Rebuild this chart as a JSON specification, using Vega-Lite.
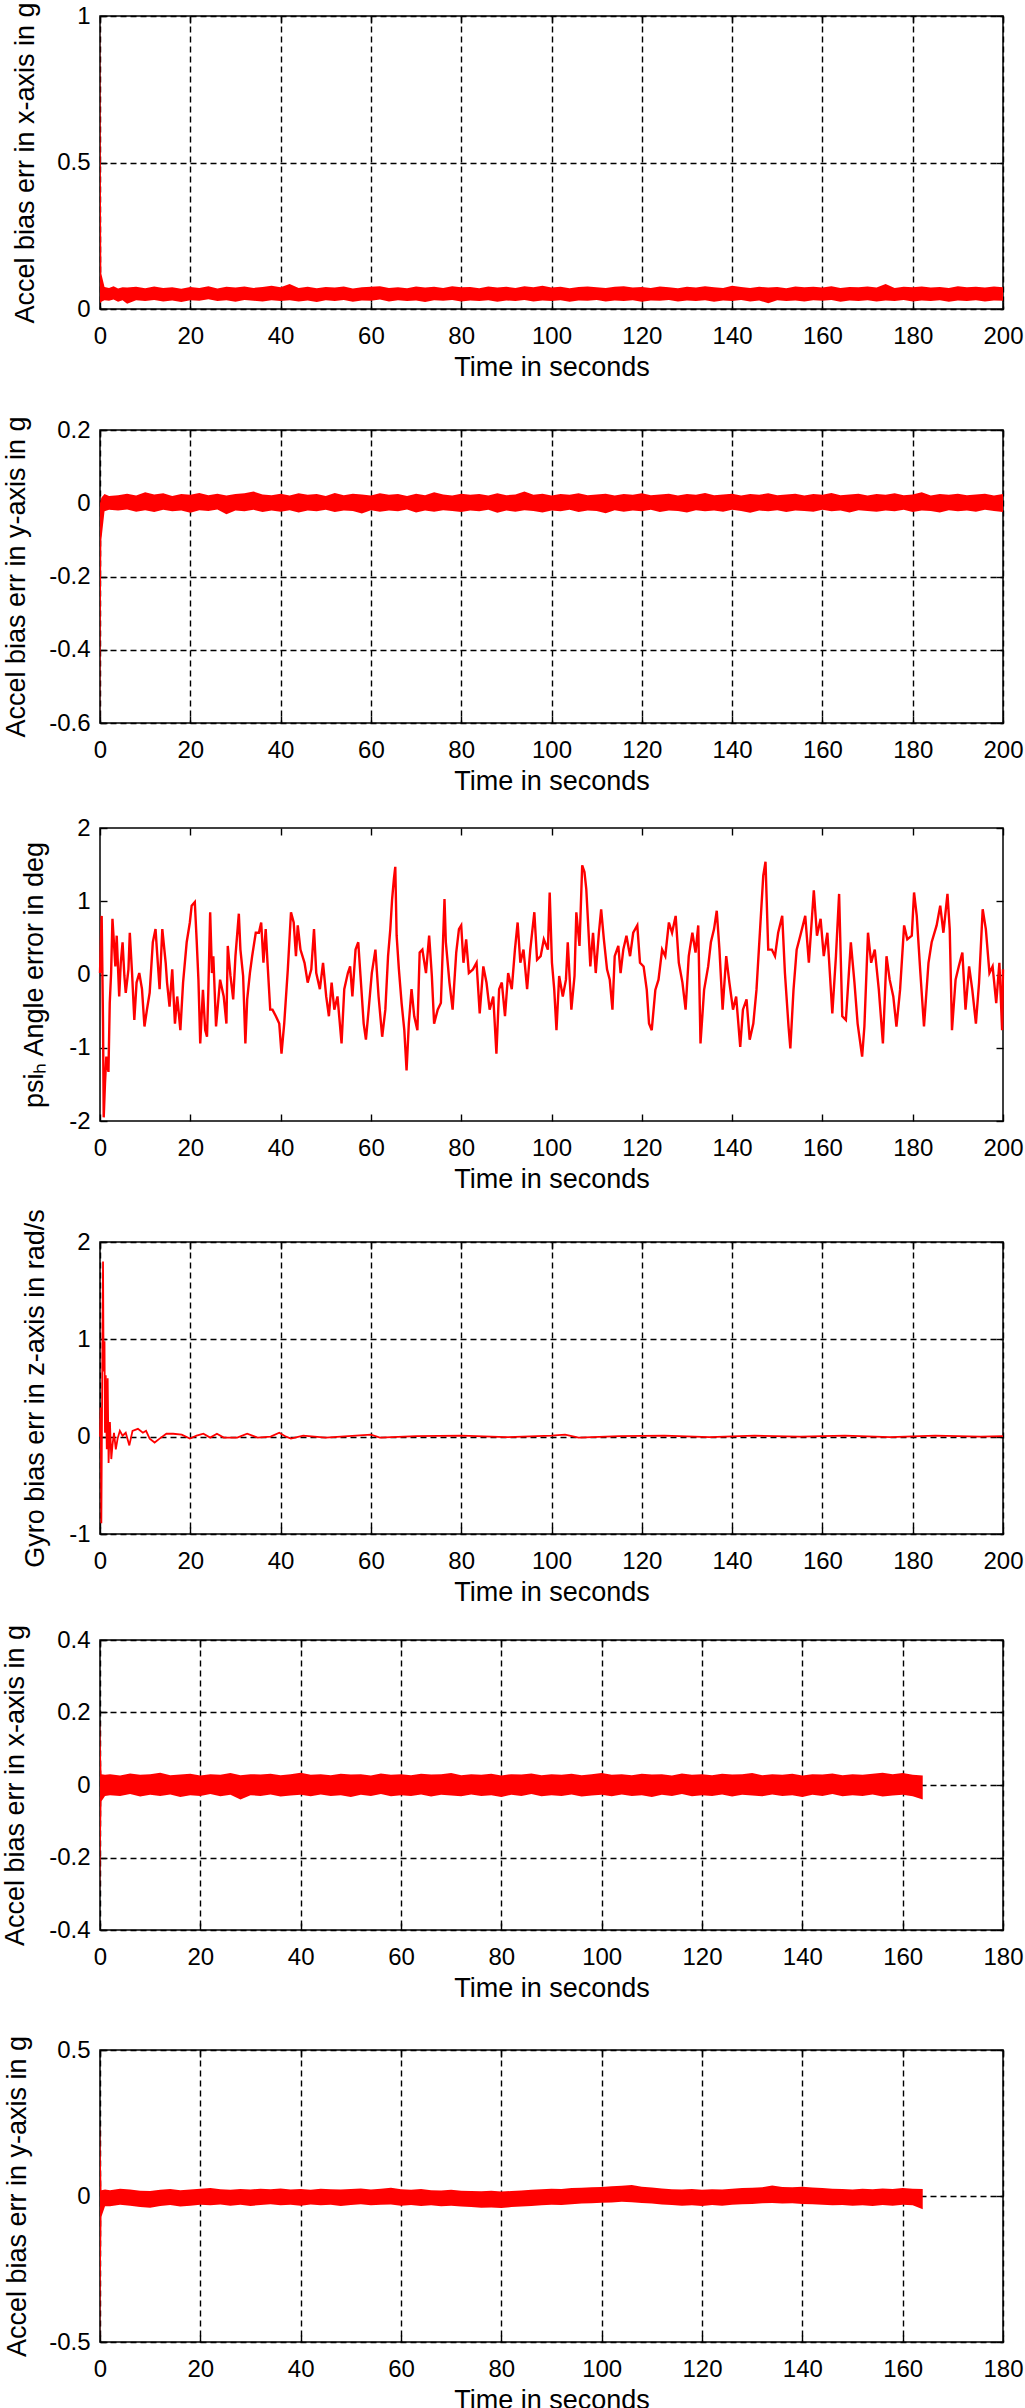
{
"$schema": "https://vega.github.io/schema/vega-lite/v6.json",
"padding": {"left": 0, "top": 1, "right": 0, "bottom": 0},
"background": "white",
"config": {
  "view": {"stroke": "black", "strokeWidth": 1.5},
  "axis": {"labelFont": "Liberation Sans", "labelFontSize": 24, "labelColor": "black", "titleFont": "Liberation Sans", "titleFontSize": 27, "titleFontWeight": "normal", "titleColor": "black", "domain": false, "tickColor": "black", "tickSize": -7, "tickWidth": 1.4, "gridColor": "black", "gridDash": [6, 4], "gridOpacity": 1, "gridWidth": 1.4, "labelOverlap": false, "labelFlush": false}
},
"datasets": {
"p1": [{"t":0,"lo":0.02,"hi":1.0},{"t":0.3,"lo":0.025,"hi":0.12},{"t":1,"lo":0.03,"hi":0.075},{"t":2,"lo":0.028,"hi":0.072},{"t":3,"lo":0.032,"hi":0.078},{"t":4,"lo":0.025,"hi":0.07},{"t":5,"lo":0.03,"hi":0.074},{"t":6,"lo":0.018,"hi":0.073},{"t":8,"lo":0.03,"hi":0.076},{"t":10,"lo":0.027,"hi":0.071},{"t":12,"lo":0.031,"hi":0.077},{"t":14,"lo":0.026,"hi":0.072},{"t":16,"lo":0.029,"hi":0.074},{"t":18,"lo":0.024,"hi":0.069},{"t":20,"lo":0.03,"hi":0.075},{"t":22,"lo":0.028,"hi":0.072},{"t":24,"lo":0.033,"hi":0.078},{"t":26,"lo":0.027,"hi":0.07},{"t":28,"lo":0.03,"hi":0.076},{"t":30,"lo":0.025,"hi":0.073},{"t":32,"lo":0.031,"hi":0.077},{"t":34,"lo":0.028,"hi":0.072},{"t":36,"lo":0.026,"hi":0.075},{"t":38,"lo":0.03,"hi":0.079},{"t":40,"lo":0.027,"hi":0.074},{"t":42,"lo":0.03,"hi":0.085},{"t":44,"lo":0.026,"hi":0.072},{"t":46,"lo":0.029,"hi":0.076},{"t":48,"lo":0.024,"hi":0.071},{"t":50,"lo":0.03,"hi":0.075},{"t":52,"lo":0.027,"hi":0.073},{"t":54,"lo":0.031,"hi":0.077},{"t":56,"lo":0.025,"hi":0.07},{"t":58,"lo":0.029,"hi":0.074},{"t":60,"lo":0.028,"hi":0.076},{"t":62,"lo":0.032,"hi":0.078},{"t":64,"lo":0.026,"hi":0.072},{"t":66,"lo":0.03,"hi":0.074},{"t":68,"lo":0.027,"hi":0.071},{"t":70,"lo":0.029,"hi":0.077},{"t":72,"lo":0.024,"hi":0.073},{"t":74,"lo":0.03,"hi":0.076},{"t":76,"lo":0.028,"hi":0.072},{"t":78,"lo":0.031,"hi":0.078},{"t":80,"lo":0.026,"hi":0.074},{"t":82,"lo":0.029,"hi":0.075},{"t":84,"lo":0.027,"hi":0.071},{"t":86,"lo":0.03,"hi":0.077},{"t":88,"lo":0.025,"hi":0.073},{"t":90,"lo":0.029,"hi":0.076},{"t":92,"lo":0.027,"hi":0.072},{"t":94,"lo":0.031,"hi":0.078},{"t":96,"lo":0.026,"hi":0.074},{"t":98,"lo":0.029,"hi":0.079},{"t":100,"lo":0.027,"hi":0.073},{"t":102,"lo":0.03,"hi":0.076},{"t":104,"lo":0.025,"hi":0.071},{"t":106,"lo":0.029,"hi":0.075},{"t":108,"lo":0.028,"hi":0.077},{"t":110,"lo":0.031,"hi":0.074},{"t":112,"lo":0.026,"hi":0.072},{"t":114,"lo":0.029,"hi":0.076},{"t":116,"lo":0.027,"hi":0.078},{"t":118,"lo":0.03,"hi":0.073},{"t":120,"lo":0.025,"hi":0.075},{"t":122,"lo":0.029,"hi":0.072},{"t":124,"lo":0.028,"hi":0.077},{"t":126,"lo":0.031,"hi":0.074},{"t":128,"lo":0.026,"hi":0.071},{"t":130,"lo":0.029,"hi":0.076},{"t":132,"lo":0.027,"hi":0.073},{"t":134,"lo":0.03,"hi":0.078},{"t":136,"lo":0.025,"hi":0.074},{"t":138,"lo":0.029,"hi":0.072},{"t":140,"lo":0.027,"hi":0.079},{"t":142,"lo":0.031,"hi":0.075},{"t":144,"lo":0.026,"hi":0.072},{"t":146,"lo":0.029,"hi":0.076},{"t":148,"lo":0.02,"hi":0.073},{"t":150,"lo":0.03,"hi":0.075},{"t":152,"lo":0.027,"hi":0.071},{"t":154,"lo":0.029,"hi":0.077},{"t":156,"lo":0.026,"hi":0.074},{"t":158,"lo":0.03,"hi":0.076},{"t":160,"lo":0.028,"hi":0.073},{"t":162,"lo":0.031,"hi":0.078},{"t":164,"lo":0.025,"hi":0.072},{"t":166,"lo":0.029,"hi":0.075},{"t":168,"lo":0.027,"hi":0.074},{"t":170,"lo":0.03,"hi":0.077},{"t":172,"lo":0.026,"hi":0.073},{"t":174,"lo":0.029,"hi":0.085},{"t":176,"lo":0.027,"hi":0.072},{"t":178,"lo":0.031,"hi":0.076},{"t":180,"lo":0.026,"hi":0.074},{"t":182,"lo":0.029,"hi":0.077},{"t":184,"lo":0.027,"hi":0.073},{"t":186,"lo":0.03,"hi":0.075},{"t":188,"lo":0.025,"hi":0.072},{"t":190,"lo":0.029,"hi":0.078},{"t":192,"lo":0.027,"hi":0.074},{"t":194,"lo":0.03,"hi":0.076},{"t":196,"lo":0.026,"hi":0.073},{"t":198,"lo":0.029,"hi":0.077},{"t":200,"lo":0.028,"hi":0.074}],
"p2": [{"t":0,"lo":-0.6,"hi":0.0},{"t":0.3,"lo":-0.1,"hi":0.015},{"t":1,"lo":-0.022,"hi":0.025},{"t":2,"lo":-0.018,"hi":0.02},{"t":4,"lo":-0.02,"hi":0.022},{"t":6,"lo":-0.017,"hi":0.026},{"t":8,"lo":-0.023,"hi":0.021},{"t":10,"lo":-0.019,"hi":0.03},{"t":12,"lo":-0.024,"hi":0.024},{"t":14,"lo":-0.018,"hi":0.027},{"t":16,"lo":-0.022,"hi":0.02},{"t":18,"lo":-0.02,"hi":0.025},{"t":20,"lo":-0.026,"hi":0.023},{"t":22,"lo":-0.019,"hi":0.028},{"t":24,"lo":-0.021,"hi":0.022},{"t":26,"lo":-0.017,"hi":0.026},{"t":28,"lo":-0.03,"hi":0.021},{"t":30,"lo":-0.02,"hi":0.025},{"t":32,"lo":-0.022,"hi":0.027},{"t":34,"lo":-0.018,"hi":0.032},{"t":36,"lo":-0.024,"hi":0.024},{"t":38,"lo":-0.02,"hi":0.022},{"t":40,"lo":-0.023,"hi":0.026},{"t":42,"lo":-0.019,"hi":0.021},{"t":44,"lo":-0.025,"hi":0.027},{"t":46,"lo":-0.02,"hi":0.023},{"t":48,"lo":-0.022,"hi":0.025},{"t":50,"lo":-0.018,"hi":0.02},{"t":52,"lo":-0.024,"hi":0.028},{"t":54,"lo":-0.02,"hi":0.022},{"t":56,"lo":-0.021,"hi":0.026},{"t":58,"lo":-0.028,"hi":0.024},{"t":60,"lo":-0.019,"hi":0.021},{"t":62,"lo":-0.023,"hi":0.027},{"t":64,"lo":-0.02,"hi":0.023},{"t":66,"lo":-0.022,"hi":0.025},{"t":68,"lo":-0.017,"hi":0.02},{"t":70,"lo":-0.025,"hi":0.026},{"t":72,"lo":-0.02,"hi":0.022},{"t":74,"lo":-0.023,"hi":0.03},{"t":76,"lo":-0.019,"hi":0.024},{"t":78,"lo":-0.021,"hi":0.021},{"t":80,"lo":-0.024,"hi":0.026},{"t":82,"lo":-0.02,"hi":0.023},{"t":84,"lo":-0.022,"hi":0.025},{"t":86,"lo":-0.018,"hi":0.021},{"t":88,"lo":-0.026,"hi":0.027},{"t":90,"lo":-0.02,"hi":0.022},{"t":92,"lo":-0.023,"hi":0.024},{"t":94,"lo":-0.019,"hi":0.032},{"t":96,"lo":-0.021,"hi":0.023},{"t":98,"lo":-0.025,"hi":0.026},{"t":100,"lo":-0.02,"hi":0.021},{"t":102,"lo":-0.022,"hi":0.025},{"t":104,"lo":-0.018,"hi":0.023},{"t":106,"lo":-0.024,"hi":0.027},{"t":108,"lo":-0.02,"hi":0.022},{"t":110,"lo":-0.021,"hi":0.024},{"t":112,"lo":-0.027,"hi":0.026},{"t":114,"lo":-0.019,"hi":0.021},{"t":116,"lo":-0.023,"hi":0.025},{"t":118,"lo":-0.02,"hi":0.023},{"t":120,"lo":-0.022,"hi":0.027},{"t":122,"lo":-0.018,"hi":0.022},{"t":124,"lo":-0.024,"hi":0.024},{"t":126,"lo":-0.02,"hi":0.026},{"t":128,"lo":-0.021,"hi":0.021},{"t":130,"lo":-0.025,"hi":0.025},{"t":132,"lo":-0.019,"hi":0.023},{"t":134,"lo":-0.022,"hi":0.028},{"t":136,"lo":-0.02,"hi":0.022},{"t":138,"lo":-0.023,"hi":0.024},{"t":140,"lo":-0.018,"hi":0.026},{"t":142,"lo":-0.021,"hi":0.021},{"t":144,"lo":-0.026,"hi":0.025},{"t":146,"lo":-0.02,"hi":0.023},{"t":148,"lo":-0.022,"hi":0.027},{"t":150,"lo":-0.019,"hi":0.022},{"t":152,"lo":-0.024,"hi":0.024},{"t":154,"lo":-0.02,"hi":0.026},{"t":156,"lo":-0.021,"hi":0.021},{"t":158,"lo":-0.023,"hi":0.025},{"t":160,"lo":-0.018,"hi":0.023},{"t":162,"lo":-0.022,"hi":0.028},{"t":164,"lo":-0.02,"hi":0.022},{"t":166,"lo":-0.025,"hi":0.024},{"t":168,"lo":-0.019,"hi":0.026},{"t":170,"lo":-0.021,"hi":0.021},{"t":172,"lo":-0.023,"hi":0.025},{"t":174,"lo":-0.02,"hi":0.023},{"t":176,"lo":-0.022,"hi":0.027},{"t":178,"lo":-0.018,"hi":0.022},{"t":180,"lo":-0.024,"hi":0.024},{"t":182,"lo":-0.02,"hi":0.03},{"t":184,"lo":-0.021,"hi":0.021},{"t":186,"lo":-0.025,"hi":0.025},{"t":188,"lo":-0.019,"hi":0.023},{"t":190,"lo":-0.022,"hi":0.026},{"t":192,"lo":-0.02,"hi":0.022},{"t":194,"lo":-0.023,"hi":0.024},{"t":196,"lo":-0.018,"hi":0.026},{"t":198,"lo":-0.021,"hi":0.021},{"t":200,"lo":-0.024,"hi":0.025}],
"p3": [{"t":0,"v":0.02},{"t":0.37,"v":0.8},{"t":0.67,"v":-0.67},{"t":0.82,"v":-1.95},{"t":1.1,"v":-1.49},{"t":1.4,"v":-1.12},{"t":1.87,"v":-1.33},{"t":2.16,"v":-0.39},{"t":2.46,"v":0.02},{"t":2.76,"v":0.76},{"t":3.4,"v":0.11},{"t":3.7,"v":0.53},{"t":4.25,"v":-0.3},{"t":4.6,"v":0.16},{"t":5,"v":0.44},{"t":5.4,"v":-0.02},{"t":5.7,"v":-0.25},{"t":6.3,"v":0.07},{"t":6.6,"v":0.57},{"t":7.1,"v":0.02},{"t":7.6,"v":-0.62},{"t":8.1,"v":-0.11},{"t":8.7,"v":0.02},{"t":9.3,"v":-0.2},{"t":9.85,"v":-0.71},{"t":10.4,"v":-0.48},{"t":11,"v":-0.25},{"t":11.7,"v":0.44},{"t":12.3,"v":0.62},{"t":12.8,"v":0.16},{"t":13.2,"v":-0.2},{"t":13.8,"v":0.62},{"t":14.55,"v":0.16},{"t":14.85,"v":-0.11},{"t":15.4,"v":-0.44},{"t":16,"v":0.07},{"t":16.6,"v":-0.67},{"t":17.1,"v":-0.3},{"t":17.8,"v":-0.76},{"t":18.4,"v":-0.11},{"t":19.2,"v":0.44},{"t":19.9,"v":0.71},{"t":20.3,"v":0.94},{"t":21,"v":0.99},{"t":21.4,"v":0.48},{"t":21.8,"v":-0.07},{"t":22.2,"v":-0.94},{"t":22.8,"v":-0.21},{"t":23.3,"v":-0.76},{"t":23.7,"v":-0.85},{"t":24,"v":-0.21},{"t":24.4,"v":0.85},{"t":24.8,"v":0.02},{"t":25.1,"v":0.25},{"t":25.7,"v":-0.71},{"t":26.6,"v":-0.07},{"t":27.4,"v":-0.3},{"t":28,"v":-0.67},{"t":28.3,"v":0.39},{"t":28.9,"v":-0.02},{"t":29.5,"v":-0.34},{"t":30,"v":0.25},{"t":30.75,"v":0.83},{"t":31.1,"v":0.34},{"t":31.7,"v":-0.02},{"t":32.2,"v":-0.94},{"t":32.6,"v":-0.34},{"t":33.2,"v":0.02},{"t":33.7,"v":0.25},{"t":34.5,"v":0.57},{"t":35.2,"v":0.57},{"t":35.7,"v":0.71},{"t":36.2,"v":0.16},{"t":36.7,"v":0.62},{"t":37.1,"v":0.16},{"t":37.7,"v":-0.48},{"t":38.2,"v":-0.48},{"t":38.96,"v":-0.57},{"t":39.7,"v":-0.67},{"t":40.2,"v":-1.08},{"t":40.8,"v":-0.67},{"t":41.6,"v":0.07},{"t":42.3,"v":0.85},{"t":42.9,"v":0.71},{"t":43.4,"v":0.25},{"t":43.8,"v":0.67},{"t":44.4,"v":0.34},{"t":45.3,"v":0.16},{"t":46,"v":-0.11},{"t":46.8,"v":0.07},{"t":47.4,"v":0.62},{"t":47.9,"v":0.02},{"t":48.7,"v":-0.2},{"t":49.4,"v":0.16},{"t":50.1,"v":-0.3},{"t":50.7,"v":-0.57},{"t":51.3,"v":-0.11},{"t":51.9,"v":-0.48},{"t":52.6,"v":-0.3},{"t":53.5,"v":-0.94},{"t":54.1,"v":-0.2},{"t":54.9,"v":0.02},{"t":55.4,"v":0.11},{"t":55.9,"v":-0.3},{"t":56.6,"v":0.34},{"t":57.2,"v":0.44},{"t":57.7,"v":-0.02},{"t":58.4,"v":-0.67},{"t":58.9,"v":-0.89},{"t":59.5,"v":-0.48},{"t":60.2,"v":0.02},{"t":61,"v":0.34},{"t":61.7,"v":-0.3},{"t":62.5,"v":-0.85},{"t":63.2,"v":-0.48},{"t":63.8,"v":0.25},{"t":64.3,"v":0.62},{"t":64.7,"v":1.03},{"t":65.1,"v":1.31},{"t":65.4,"v":1.47},{"t":65.7,"v":0.53},{"t":66.2,"v":0.07},{"t":66.8,"v":-0.39},{"t":67.4,"v":-0.76},{"t":67.9,"v":-1.31},{"t":68.4,"v":-0.67},{"t":69,"v":-0.2},{"t":69.6,"v":-0.57},{"t":70.3,"v":-0.76},{"t":70.8,"v":0.3},{"t":71.4,"v":0.34},{"t":72.2,"v":0.02},{"t":72.9,"v":0.53},{"t":73.5,"v":-0.02},{"t":74,"v":-0.67},{"t":74.8,"v":-0.48},{"t":75.5,"v":-0.39},{"t":76.3,"v":1.03},{"t":76.6,"v":0.44},{"t":77.4,"v":-0.11},{"t":78.1,"v":-0.48},{"t":78.9,"v":0.3},{"t":79.5,"v":0.62},{"t":80,"v":0.67},{"t":80.5,"v":0.16},{"t":81.1,"v":0.48},{"t":81.7,"v":0.02},{"t":82.6,"v":0.07},{"t":83.4,"v":0.16},{"t":84.1,"v":-0.53},{"t":84.9,"v":0.11},{"t":85.6,"v":-0.11},{"t":86.3,"v":-0.48},{"t":87.1,"v":-0.3},{"t":87.8,"v":-1.08},{"t":88.4,"v":-0.2},{"t":89,"v":-0.11},{"t":89.7,"v":-0.57},{"t":90.4,"v":0.02},{"t":91.2,"v":-0.2},{"t":91.9,"v":0.34},{"t":92.5,"v":0.71},{"t":93.1,"v":0.16},{"t":93.8,"v":0.34},{"t":94.6,"v":-0.2},{"t":95.3,"v":0.34},{"t":96.2,"v":0.85},{"t":96.8,"v":0.2},{"t":97.6,"v":0.25},{"t":98.3,"v":0.48},{"t":99.2,"v":0.34},{"t":99.6,"v":1.12},{"t":100.1,"v":0.16},{"t":100.6,"v":-0.2},{"t":101.1,"v":-0.76},{"t":101.7,"v":-0.02},{"t":102.5,"v":-0.3},{"t":103.2,"v":-0.07},{"t":103.6,"v":0.44},{"t":104.4,"v":-0.48},{"t":105.1,"v":-0.02},{"t":105.5,"v":0.85},{"t":106.2,"v":0.39},{"t":106.8,"v":1.49},{"t":107.3,"v":1.4},{"t":107.7,"v":1.17},{"t":108.1,"v":0.71},{"t":108.6,"v":0.11},{"t":109.2,"v":0.57},{"t":109.8,"v":0.02},{"t":110.5,"v":0.57},{"t":111,"v":0.89},{"t":111.6,"v":0.48},{"t":112.3,"v":0.07},{"t":112.9,"v":-0.07},{"t":113.5,"v":-0.48},{"t":114,"v":0.25},{"t":114.8,"v":0.39},{"t":115.3,"v":0.02},{"t":115.9,"v":0.34},{"t":116.6,"v":0.53},{"t":117.4,"v":0.25},{"t":118.1,"v":0.57},{"t":119,"v":0.67},{"t":119.6,"v":0.16},{"t":120.4,"v":0.11},{"t":121.1,"v":-0.21},{"t":121.6,"v":-0.67},{"t":122.2,"v":-0.76},{"t":123,"v":-0.21},{"t":123.7,"v":-0.07},{"t":124.5,"v":0.34},{"t":125.2,"v":0.25},{"t":126,"v":0.71},{"t":126.7,"v":0.57},{"t":127.5,"v":0.8},{"t":128.2,"v":0.16},{"t":129,"v":-0.11},{"t":129.7,"v":-0.48},{"t":130.4,"v":0.25},{"t":131.2,"v":0.57},{"t":131.9,"v":0.3},{"t":132.5,"v":0.67},{"t":133,"v":-0.94},{"t":133.8,"v":-0.21},{"t":134.7,"v":0.11},{"t":135.3,"v":0.44},{"t":136,"v":0.62},{"t":136.6,"v":0.87},{"t":137.2,"v":0.34},{"t":137.9,"v":-0.48},{"t":138.7,"v":0.25},{"t":139.4,"v":-0.11},{"t":140.2,"v":-0.48},{"t":140.9,"v":-0.3},{"t":141.8,"v":-0.99},{"t":142.4,"v":-0.48},{"t":143.2,"v":-0.34},{"t":143.9,"v":-0.89},{"t":144.7,"v":-0.67},{"t":145.4,"v":-0.21},{"t":146.2,"v":0.62},{"t":146.9,"v":1.35},{"t":147.4,"v":1.54},{"t":148,"v":0.34},{"t":148.8,"v":0.34},{"t":149.5,"v":0.25},{"t":150.2,"v":0.57},{"t":151.1,"v":0.8},{"t":151.7,"v":0.02},{"t":152.5,"v":-0.71},{"t":152.9,"v":-1.01},{"t":153.6,"v":-0.21},{"t":154.3,"v":0.34},{"t":155.1,"v":0.53},{"t":156.2,"v":0.8},{"t":157,"v":0.16},{"t":158.1,"v":1.15},{"t":158.8,"v":0.53},{"t":159.6,"v":0.76},{"t":160.3,"v":0.25},{"t":161.1,"v":0.57},{"t":162.2,"v":-0.53},{"t":163,"v":0.25},{"t":163.7,"v":1.1},{"t":164.4,"v":-0.57},{"t":165.2,"v":-0.62},{"t":166.3,"v":0.44},{"t":167.1,"v":-0.11},{"t":167.8,"v":-0.67},{"t":168.8,"v":-1.12},{"t":169.3,"v":-0.71},{"t":170.1,"v":0.57},{"t":170.8,"v":0.16},{"t":171.6,"v":0.34},{"t":172.5,"v":-0.21},{"t":173.4,"v":-0.94},{"t":174.2,"v":0.25},{"t":174.9,"v":-0.07},{"t":175.7,"v":-0.3},{"t":176.4,"v":-0.71},{"t":177.2,"v":-0.21},{"t":178.1,"v":0.67},{"t":178.8,"v":0.48},{"t":179.8,"v":0.53},{"t":180.3,"v":1.12},{"t":180.9,"v":0.8},{"t":181.7,"v":0.02},{"t":182.5,"v":-0.71},{"t":183.5,"v":0.16},{"t":184.2,"v":0.44},{"t":185.3,"v":0.67},{"t":186.1,"v":0.94},{"t":186.8,"v":0.57},{"t":187.7,"v":1.1},{"t":188.2,"v":0.62},{"t":188.7,"v":-0.76},{"t":189.5,"v":-0.07},{"t":190.2,"v":0.11},{"t":191,"v":0.3},{"t":191.7,"v":-0.48},{"t":192.5,"v":0.11},{"t":193.2,"v":-0.21},{"t":194,"v":-0.67},{"t":194.7,"v":-0.11},{"t":195.5,"v":0.89},{"t":196.2,"v":0.62},{"t":197,"v":0.02},{"t":197.7,"v":0.11},{"t":198.5,"v":-0.39},{"t":199.2,"v":0.16},{"t":199.8,"v":-0.76},{"t":200,"v":0.07}],
"p4": [{"t":0,"v":0},{"t":0.15,"v":0.3},{"t":0.3,"v":-0.89},{"t":0.5,"v":0.63},{"t":0.67,"v":1.8},{"t":0.8,"v":0.67},{"t":1,"v":0.98},{"t":1.1,"v":0.04},{"t":1.27,"v":0.63},{"t":1.5,"v":-0.13},{"t":1.7,"v":0.6},{"t":1.9,"v":-0.27},{"t":2.2,"v":0.15},{"t":2.5,"v":-0.23},{"t":2.76,"v":-0.09},{"t":3.1,"v":0.04},{"t":3.5,"v":-0.13},{"t":3.9,"v":-0.02},{"t":4.4,"v":0.06},{"t":5,"v":0.01},{"t":5.7,"v":0.04},{"t":6.5,"v":-0.09},{"t":7.2,"v":0.06},{"t":8.4,"v":0.08},{"t":9.5,"v":0.04},{"t":10.2,"v":0.06},{"t":11,"v":-0.02},{"t":12.1,"v":-0.06},{"t":13.2,"v":-0.02},{"t":14.7,"v":0.03},{"t":16.2,"v":0.03},{"t":18.1,"v":0.02},{"t":19.9,"v":-0.02},{"t":21.4,"v":0.01},{"t":22.9,"v":0.03},{"t":24.4,"v":-0.01},{"t":25.9,"v":0.03},{"t":27.4,"v":-0.01},{"t":30.4,"v":-0.01},{"t":32.6,"v":0.03},{"t":34.9,"v":-0.01},{"t":37.8,"v":0},{"t":39.7,"v":0.04},{"t":41.2,"v":0},{"t":42.3,"v":-0.02},{"t":45,"v":0.01},{"t":50,"v":-0.01},{"t":55,"v":0.005},{"t":60,"v":0.02},{"t":62,"v":-0.01},{"t":70,"v":0.005},{"t":80,"v":0.01},{"t":90,"v":-0.005},{"t":100,"v":0.01},{"t":103,"v":0.02},{"t":106,"v":-0.01},{"t":115,"v":0.005},{"t":125,"v":0.01},{"t":135,"v":-0.005},{"t":145,"v":0.01},{"t":155,"v":0.0},{"t":165,"v":0.01},{"t":175,"v":-0.005},{"t":185,"v":0.01},{"t":195,"v":0.0},{"t":200,"v":0.005}],
"p5": [{"t":0,"lo":-0.3,"hi":0.18},{"t":0.3,"lo":-0.045,"hi":0.03},{"t":1,"lo":-0.03,"hi":0.028},{"t":2,"lo":-0.028,"hi":0.03},{"t":4,"lo":-0.03,"hi":0.026},{"t":6,"lo":-0.025,"hi":0.032},{"t":8,"lo":-0.032,"hi":0.028},{"t":10,"lo":-0.027,"hi":0.03},{"t":12,"lo":-0.03,"hi":0.034},{"t":14,"lo":-0.026,"hi":0.027},{"t":16,"lo":-0.033,"hi":0.029},{"t":18,"lo":-0.028,"hi":0.031},{"t":20,"lo":-0.03,"hi":0.026},{"t":22,"lo":-0.025,"hi":0.03},{"t":24,"lo":-0.031,"hi":0.028},{"t":26,"lo":-0.027,"hi":0.033},{"t":28,"lo":-0.04,"hi":0.027},{"t":30,"lo":-0.028,"hi":0.03},{"t":32,"lo":-0.03,"hi":0.029},{"t":34,"lo":-0.026,"hi":0.031},{"t":36,"lo":-0.032,"hi":0.027},{"t":38,"lo":-0.029,"hi":0.03},{"t":40,"lo":-0.027,"hi":0.034},{"t":42,"lo":-0.031,"hi":0.028},{"t":44,"lo":-0.026,"hi":0.03},{"t":46,"lo":-0.03,"hi":0.027},{"t":48,"lo":-0.028,"hi":0.031},{"t":50,"lo":-0.033,"hi":0.029},{"t":52,"lo":-0.027,"hi":0.03},{"t":54,"lo":-0.03,"hi":0.026},{"t":56,"lo":-0.025,"hi":0.032},{"t":58,"lo":-0.031,"hi":0.028},{"t":60,"lo":-0.028,"hi":0.03},{"t":62,"lo":-0.03,"hi":0.027},{"t":64,"lo":-0.026,"hi":0.031},{"t":66,"lo":-0.032,"hi":0.029},{"t":68,"lo":-0.027,"hi":0.03},{"t":70,"lo":-0.029,"hi":0.033},{"t":72,"lo":-0.031,"hi":0.027},{"t":74,"lo":-0.026,"hi":0.03},{"t":76,"lo":-0.03,"hi":0.028},{"t":78,"lo":-0.028,"hi":0.031},{"t":80,"lo":-0.033,"hi":0.026},{"t":82,"lo":-0.027,"hi":0.03},{"t":84,"lo":-0.03,"hi":0.029},{"t":86,"lo":-0.025,"hi":0.032},{"t":88,"lo":-0.031,"hi":0.027},{"t":90,"lo":-0.028,"hi":0.03},{"t":92,"lo":-0.03,"hi":0.028},{"t":94,"lo":-0.026,"hi":0.031},{"t":96,"lo":-0.032,"hi":0.027},{"t":98,"lo":-0.029,"hi":0.03},{"t":100,"lo":-0.027,"hi":0.033},{"t":102,"lo":-0.031,"hi":0.028},{"t":104,"lo":-0.026,"hi":0.03},{"t":106,"lo":-0.03,"hi":0.027},{"t":108,"lo":-0.028,"hi":0.031},{"t":110,"lo":-0.033,"hi":0.029},{"t":112,"lo":-0.027,"hi":0.03},{"t":114,"lo":-0.03,"hi":0.026},{"t":116,"lo":-0.025,"hi":0.032},{"t":118,"lo":-0.031,"hi":0.028},{"t":120,"lo":-0.028,"hi":0.03},{"t":122,"lo":-0.03,"hi":0.027},{"t":124,"lo":-0.026,"hi":0.031},{"t":126,"lo":-0.032,"hi":0.029},{"t":128,"lo":-0.027,"hi":0.03},{"t":130,"lo":-0.029,"hi":0.033},{"t":132,"lo":-0.031,"hi":0.027},{"t":134,"lo":-0.026,"hi":0.03},{"t":136,"lo":-0.03,"hi":0.028},{"t":138,"lo":-0.028,"hi":0.031},{"t":140,"lo":-0.033,"hi":0.026},{"t":142,"lo":-0.027,"hi":0.03},{"t":144,"lo":-0.03,"hi":0.029},{"t":146,"lo":-0.025,"hi":0.032},{"t":148,"lo":-0.031,"hi":0.027},{"t":150,"lo":-0.028,"hi":0.03},{"t":152,"lo":-0.03,"hi":0.028},{"t":154,"lo":-0.026,"hi":0.031},{"t":156,"lo":-0.032,"hi":0.034},{"t":158,"lo":-0.029,"hi":0.03},{"t":160,"lo":-0.027,"hi":0.033},{"t":162,"lo":-0.031,"hi":0.028},{"t":164,"lo":-0.04,"hi":0.026}],
"p6": [{"t":0,"lo":-0.5,"hi":0.25},{"t":0.3,"lo":-0.07,"hi":0.02},{"t":1,"lo":-0.035,"hi":0.022},{"t":2,"lo":-0.035,"hi":0.02},{"t":4,"lo":-0.03,"hi":0.025},{"t":6,"lo":-0.033,"hi":0.022},{"t":8,"lo":-0.038,"hi":0.018},{"t":10,"lo":-0.04,"hi":0.017},{"t":12,"lo":-0.034,"hi":0.021},{"t":14,"lo":-0.031,"hi":0.024},{"t":16,"lo":-0.036,"hi":0.02},{"t":18,"lo":-0.033,"hi":0.022},{"t":20,"lo":-0.03,"hi":0.025},{"t":22,"lo":-0.032,"hi":0.027},{"t":24,"lo":-0.029,"hi":0.023},{"t":26,"lo":-0.033,"hi":0.021},{"t":28,"lo":-0.03,"hi":0.024},{"t":30,"lo":-0.034,"hi":0.022},{"t":32,"lo":-0.031,"hi":0.025},{"t":34,"lo":-0.028,"hi":0.023},{"t":36,"lo":-0.032,"hi":0.026},{"t":38,"lo":-0.03,"hi":0.022},{"t":40,"lo":-0.033,"hi":0.024},{"t":42,"lo":-0.029,"hi":0.021},{"t":44,"lo":-0.032,"hi":0.025},{"t":46,"lo":-0.03,"hi":0.023},{"t":48,"lo":-0.034,"hi":0.022},{"t":50,"lo":-0.031,"hi":0.024},{"t":52,"lo":-0.028,"hi":0.026},{"t":54,"lo":-0.032,"hi":0.022},{"t":56,"lo":-0.03,"hi":0.025},{"t":58,"lo":-0.029,"hi":0.028},{"t":60,"lo":-0.033,"hi":0.023},{"t":62,"lo":-0.031,"hi":0.021},{"t":64,"lo":-0.034,"hi":0.024},{"t":66,"lo":-0.032,"hi":0.02},{"t":68,"lo":-0.035,"hi":0.019},{"t":70,"lo":-0.033,"hi":0.021},{"t":72,"lo":-0.036,"hi":0.018},{"t":74,"lo":-0.038,"hi":0.017},{"t":76,"lo":-0.04,"hi":0.016},{"t":78,"lo":-0.039,"hi":0.018},{"t":80,"lo":-0.041,"hi":0.015},{"t":82,"lo":-0.038,"hi":0.017},{"t":84,"lo":-0.036,"hi":0.019},{"t":86,"lo":-0.034,"hi":0.021},{"t":88,"lo":-0.032,"hi":0.023},{"t":90,"lo":-0.03,"hi":0.025},{"t":92,"lo":-0.031,"hi":0.024},{"t":94,"lo":-0.028,"hi":0.027},{"t":96,"lo":-0.026,"hi":0.028},{"t":98,"lo":-0.025,"hi":0.03},{"t":100,"lo":-0.023,"hi":0.031},{"t":102,"lo":-0.022,"hi":0.033},{"t":104,"lo":-0.02,"hi":0.035},{"t":106,"lo":-0.021,"hi":0.038},{"t":108,"lo":-0.024,"hi":0.032},{"t":110,"lo":-0.026,"hi":0.029},{"t":112,"lo":-0.029,"hi":0.026},{"t":114,"lo":-0.031,"hi":0.023},{"t":116,"lo":-0.033,"hi":0.022},{"t":118,"lo":-0.032,"hi":0.024},{"t":120,"lo":-0.034,"hi":0.021},{"t":122,"lo":-0.031,"hi":0.023},{"t":124,"lo":-0.033,"hi":0.022},{"t":126,"lo":-0.03,"hi":0.025},{"t":128,"lo":-0.028,"hi":0.027},{"t":130,"lo":-0.027,"hi":0.028},{"t":132,"lo":-0.025,"hi":0.03},{"t":134,"lo":-0.024,"hi":0.036},{"t":136,"lo":-0.026,"hi":0.031},{"t":138,"lo":-0.025,"hi":0.03},{"t":140,"lo":-0.027,"hi":0.032},{"t":142,"lo":-0.028,"hi":0.029},{"t":144,"lo":-0.03,"hi":0.027},{"t":146,"lo":-0.032,"hi":0.025},{"t":148,"lo":-0.031,"hi":0.024},{"t":150,"lo":-0.033,"hi":0.022},{"t":152,"lo":-0.032,"hi":0.025},{"t":154,"lo":-0.034,"hi":0.023},{"t":156,"lo":-0.031,"hi":0.026},{"t":158,"lo":-0.033,"hi":0.024},{"t":160,"lo":-0.03,"hi":0.027},{"t":162,"lo":-0.032,"hi":0.025},{"t":164,"lo":-0.045,"hi":0.024}],
"blank": []
},
"spacing": 0,
"bounds": "flush",
"vconcat": [
{"width": 903, "height": 293, "data": {"name": "p1"},
 "layer": [
  {"mark": {"type": "area", "color": "#ff0000", "opacity": 1},
   "encoding": {
    "x": {"field": "t", "type": "quantitative", "scale": {"domain": [0, 200], "nice": false}, "axis": {"orient": "bottom", "values": [0,20,40,60,80,100,120,140,160,180,200], "grid": true, "title": "Time in seconds", "titleY": 66, "titleBaseline": "alphabetic", "labelPadding": 41, "labelBaseline": "alphabetic", "labelExpr": "toString(datum.value)"}},
    "y": {"field": "lo", "type": "quantitative", "scale": {"domain": [0, 1], "nice": false}, "axis": {"orient": "left", "values": [0, 0.5, 1], "grid": true, "title": "Accel bias err in x-axis in g", "titleX": -67, "titleY": 146.5, "titleAngle": 270, "titleAlign": "center", "titleBaseline": "alphabetic", "labelPadding": 17, "labelExpr": "toString(datum.value)"}},
    "y2": {"field": "hi"}}},
  {"mark": {"type": "point", "opacity": 0},
   "encoding": {
    "x": {"field": "t", "type": "quantitative", "scale": {"domain": [0, 200], "nice": false}, "axis": {"orient": "top", "values": [0,20,40,60,80,100,120,140,160,180,200], "grid": false, "labels": false, "title": null}},
    "y": {"field": "lo", "type": "quantitative", "scale": {"domain": [0, 1], "nice": false}, "axis": {"orient": "right", "values": [0, 0.5, 1], "grid": false, "labels": false, "title": null}}}}
 ],
 "resolve": {"axis": {"x": "independent", "y": "independent"}}},
{"width": 903, "height": 121, "data": {"name": "blank"}, "mark": {"type": "point", "opacity": 0}, "view": {"stroke": null}},
{"width": 903, "height": 293, "data": {"name": "p2"},
 "layer": [
  {"mark": {"type": "area", "color": "#ff0000", "opacity": 1},
   "encoding": {
    "x": {"field": "t", "type": "quantitative", "scale": {"domain": [0, 200], "nice": false}, "axis": {"orient": "bottom", "values": [0,20,40,60,80,100,120,140,160,180,200], "grid": true, "title": "Time in seconds", "titleY": 66, "titleBaseline": "alphabetic", "labelPadding": 41, "labelBaseline": "alphabetic", "labelExpr": "toString(datum.value)"}},
    "y": {"field": "lo", "type": "quantitative", "scale": {"domain": [-0.6, 0.2], "nice": false}, "axis": {"orient": "left", "values": [-0.6, -0.4, -0.2, 0, 0.2], "grid": true, "title": "Accel bias err in y-axis in g", "titleX": -76, "titleY": 146.5, "titleAngle": 270, "titleAlign": "center", "titleBaseline": "alphabetic", "labelPadding": 17, "labelExpr": "toString(datum.value)"}},
    "y2": {"field": "hi"}}},
  {"mark": {"type": "point", "opacity": 0},
   "encoding": {
    "x": {"field": "t", "type": "quantitative", "scale": {"domain": [0, 200], "nice": false}, "axis": {"orient": "top", "values": [0,20,40,60,80,100,120,140,160,180,200], "grid": false, "labels": false, "title": null}},
    "y": {"field": "lo", "type": "quantitative", "scale": {"domain": [-0.6, 0.2], "nice": false}, "axis": {"orient": "right", "values": [-0.6, -0.4, -0.2, 0, 0.2], "grid": false, "labels": false, "title": null}}}}
 ],
 "resolve": {"axis": {"x": "independent", "y": "independent"}}},
{"width": 903, "height": 105, "data": {"name": "blank"}, "mark": {"type": "point", "opacity": 0}, "view": {"stroke": null}},
{"width": 903, "height": 293, "data": {"name": "p3"},
 "layer": [
  {"mark": {"type": "line", "color": "#ff0000", "strokeWidth": 2.4},
   "encoding": {
    "x": {"field": "t", "type": "quantitative", "scale": {"domain": [0, 200], "nice": false}, "axis": {"orient": "bottom", "values": [0,20,40,60,80,100,120,140,160,180,200], "grid": false, "title": "Time in seconds", "titleY": 66, "titleBaseline": "alphabetic", "labelPadding": 41, "labelBaseline": "alphabetic", "labelExpr": "toString(datum.value)"}},
    "y": {"field": "v", "type": "quantitative", "scale": {"domain": [-2, 2], "nice": false}, "axis": {"orient": "left", "values": [-2, -1, 0, 1, 2], "grid": false, "title": "psiₕ Angle error in deg", "titleX": -58, "titleY": 146.5, "titleAngle": 270, "titleAlign": "center", "titleBaseline": "alphabetic", "labelPadding": 17, "labelExpr": "toString(datum.value)"}}}},
  {"mark": {"type": "point", "opacity": 0},
   "encoding": {
    "x": {"field": "t", "type": "quantitative", "scale": {"domain": [0, 200], "nice": false}, "axis": {"orient": "top", "values": [0,20,40,60,80,100,120,140,160,180,200], "grid": false, "labels": false, "title": null}},
    "y": {"field": "v", "type": "quantitative", "scale": {"domain": [-2, 2], "nice": false}, "axis": {"orient": "right", "values": [-2, -1, 0, 1, 2], "grid": false, "labels": false, "title": null}}}}
 ],
 "resolve": {"axis": {"x": "independent", "y": "independent"}}},
{"width": 903, "height": 121, "data": {"name": "blank"}, "mark": {"type": "point", "opacity": 0}, "view": {"stroke": null}},
{"width": 903, "height": 292, "data": {"name": "p4"},
 "layer": [
  {"mark": {"type": "line", "color": "#ff0000", "strokeWidth": 1.8},
   "encoding": {
    "x": {"field": "t", "type": "quantitative", "scale": {"domain": [0, 200], "nice": false}, "axis": {"orient": "bottom", "values": [0,20,40,60,80,100,120,140,160,180,200], "grid": true, "title": "Time in seconds", "titleY": 66, "titleBaseline": "alphabetic", "labelPadding": 41, "labelBaseline": "alphabetic", "labelExpr": "toString(datum.value)"}},
    "y": {"field": "v", "type": "quantitative", "scale": {"domain": [-1, 2], "nice": false}, "axis": {"orient": "left", "values": [-1, 0, 1, 2], "grid": true, "title": "Gyro bias err in z-axis in rad/s", "titleX": -57, "titleY": 146, "titleAngle": 270, "titleAlign": "center", "titleBaseline": "alphabetic", "labelPadding": 17, "labelExpr": "toString(datum.value)"}}}},
  {"mark": {"type": "point", "opacity": 0},
   "encoding": {
    "x": {"field": "t", "type": "quantitative", "scale": {"domain": [0, 200], "nice": false}, "axis": {"orient": "top", "values": [0,20,40,60,80,100,120,140,160,180,200], "grid": false, "labels": false, "title": null}},
    "y": {"field": "v", "type": "quantitative", "scale": {"domain": [-1, 2], "nice": false}, "axis": {"orient": "right", "values": [-1, 0, 1, 2], "grid": false, "labels": false, "title": null}}}}
 ],
 "resolve": {"axis": {"x": "independent", "y": "independent"}}},
{"width": 903, "height": 106, "data": {"name": "blank"}, "mark": {"type": "point", "opacity": 0}, "view": {"stroke": null}},
{"width": 903, "height": 290, "data": {"name": "p5"},
 "layer": [
  {"mark": {"type": "area", "color": "#ff0000", "opacity": 1},
   "encoding": {
    "x": {"field": "t", "type": "quantitative", "scale": {"domain": [0, 180], "nice": false}, "axis": {"orient": "bottom", "values": [0,20,40,60,80,100,120,140,160,180], "grid": true, "title": "Time in seconds", "titleY": 66, "titleBaseline": "alphabetic", "labelPadding": 41, "labelBaseline": "alphabetic", "labelExpr": "toString(datum.value)"}},
    "y": {"field": "lo", "type": "quantitative", "scale": {"domain": [-0.4, 0.4], "nice": false}, "axis": {"orient": "left", "values": [-0.4, -0.2, 0, 0.2, 0.4], "grid": true, "title": "Accel bias err in x-axis in g", "titleX": -77, "titleY": 145, "titleAngle": 270, "titleAlign": "center", "titleBaseline": "alphabetic", "labelPadding": 17, "labelExpr": "toString(datum.value)"}},
    "y2": {"field": "hi"}}},
  {"mark": {"type": "point", "opacity": 0},
   "encoding": {
    "x": {"field": "t", "type": "quantitative", "scale": {"domain": [0, 180], "nice": false}, "axis": {"orient": "top", "values": [0,20,40,60,80,100,120,140,160,180], "grid": false, "labels": false, "title": null}},
    "y": {"field": "lo", "type": "quantitative", "scale": {"domain": [-0.4, 0.4], "nice": false}, "axis": {"orient": "right", "values": [-0.4, -0.2, 0, 0.2, 0.4], "grid": false, "labels": false, "title": null}}}}
 ],
 "resolve": {"axis": {"x": "independent", "y": "independent"}}},
{"width": 903, "height": 120, "data": {"name": "blank"}, "mark": {"type": "point", "opacity": 0}, "view": {"stroke": null}},
{"width": 903, "height": 292, "data": {"name": "p6"},
 "layer": [
  {"mark": {"type": "area", "color": "#ff0000", "opacity": 1},
   "encoding": {
    "x": {"field": "t", "type": "quantitative", "scale": {"domain": [0, 180], "nice": false}, "axis": {"orient": "bottom", "values": [0,20,40,60,80,100,120,140,160,180], "grid": true, "title": "Time in seconds", "titleY": 66, "titleBaseline": "alphabetic", "labelPadding": 41, "labelBaseline": "alphabetic", "labelExpr": "toString(datum.value)"}},
    "y": {"field": "lo", "type": "quantitative", "scale": {"domain": [-0.5, 0.5], "nice": false}, "axis": {"orient": "left", "values": [-0.5, 0, 0.5], "grid": true, "title": "Accel bias err in y-axis in g", "titleX": -75, "titleY": 146, "titleAngle": 270, "titleAlign": "center", "titleBaseline": "alphabetic", "labelPadding": 17, "labelExpr": "toString(datum.value)"}},
    "y2": {"field": "hi"}}},
  {"mark": {"type": "point", "opacity": 0},
   "encoding": {
    "x": {"field": "t", "type": "quantitative", "scale": {"domain": [0, 180], "nice": false}, "axis": {"orient": "top", "values": [0,20,40,60,80,100,120,140,160,180], "grid": false, "labels": false, "title": null}},
    "y": {"field": "lo", "type": "quantitative", "scale": {"domain": [-0.5, 0.5], "nice": false}, "axis": {"orient": "right", "values": [-0.5, 0, 0.5], "grid": false, "labels": false, "title": null}}}}
 ],
 "resolve": {"axis": {"x": "independent", "y": "independent"}}}
]
}
